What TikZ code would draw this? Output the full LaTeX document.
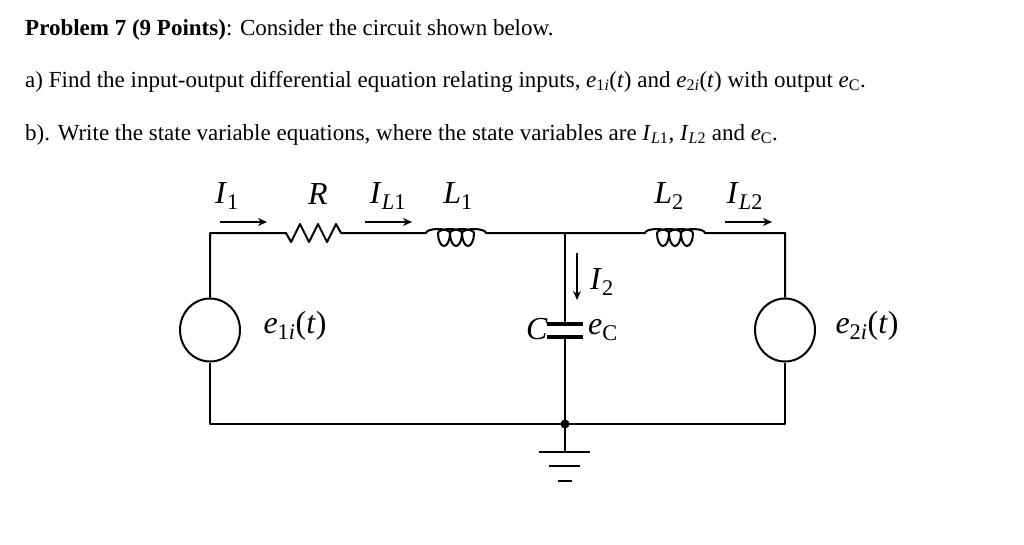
\documentclass[tikz,border=0pt]{standalone}
\usepackage{fontspec}
\setmainfont{Liberation Serif}
\usetikzlibrary{shapes.geometric,arrows.meta}
\newcommand{\vi}[1]{\textit{#1}}
\newcommand{\sbs}[1]{\textsubscript{#1}}
\begin{document}
\begin{tikzpicture}[x=1pt,y=-1pt,
  wire/.style={line width=2pt,line join=round},
  txt/.style={anchor=base west,inner sep=0pt,font=\fontsize{23}{27}\selectfont},
  lab/.style={inner sep=0pt,font=\fontsize{32}{36}\selectfont},
  cur/.style={line width=1.8pt,-{Stealth[length=9pt,width=8pt]}}]
\useasboundingbox (0,0) rectangle (1024,544);
\node[txt] (t1) at (25,35) {\textbf{Problem 7 (9 Points)}: Consider the circuit shown below.};
\node[txt] (t2) at (25,87) {a) Find the input-output differential equation relating inputs, \vi{e}\sbs{1\vi{i}}(\vi{t}) and \vi{e}\sbs{2\vi{i}}(\vi{t}) with output \vi{e}\sbs{C}.};
\node[txt] (t3) at (25,140) {b). Write the state variable equations, where the state variables are \vi{I}\sbs{\vi{L}1}, \vi{I}\sbs{\vi{L}2} and \vi{e}\sbs{C}.};
% coordinates
\coordinate (tl) at (210,233); \coordinate (tr) at (785,233);
\coordinate (bl) at (210,424); \coordinate (br) at (785,424);
\coordinate (tm) at (565,233); \coordinate (bm) at (565,424);
\coordinate (r1) at (282,233); \coordinate (r2) at (347,233);
\coordinate (la1) at (420,233); \coordinate (la2) at (492,233);
\coordinate (lb1) at (639,233); \coordinate (lb2) at (711,233);
\coordinate (c1) at (565,324); \coordinate (c2) at (565,337);
\coordinate (g) at (565,452);
\node[draw,line width=2pt,ellipse,minimum width=60pt,minimum height=63pt,inner sep=0pt] (s1) at (210,330) {};
\node[draw,line width=2pt,ellipse,minimum width=60pt,minimum height=63pt,inner sep=0pt] (s2) at (785,330) {};
\draw[wire] (s1.north) -- (tl) -- (r1)
  -- ++(4,0) -- ++(5,9) -- ++(9,-18) -- ++(9,18) -- ++(9,-18) -- ++(9,18) -- ++(9,-18) -- ++(5,9) -- (r2) -- (la1);
\draw[wire] (la1) -- ++(6,0)
  \foreach \i in {1,2,3}{ arc[start angle=180,end angle=0,x radius=12pt,y radius=4pt] arc[start angle=0,end angle=-180,x radius=6pt,y radius=13pt] }
  arc[start angle=180,end angle=0,x radius=12pt,y radius=4pt] -- (la2) -- (tm) -- (lb1) -- ++(6,0)
  \foreach \i in {1,2,3}{ arc[start angle=180,end angle=0,x radius=12pt,y radius=4pt] arc[start angle=0,end angle=-180,x radius=6pt,y radius=13pt] }
  arc[start angle=180,end angle=0,x radius=12pt,y radius=4pt] -- (lb2) -- (tr) -- (s2.north);
\draw[wire] (s1.south) -- (bl) -- (br) -- (s2.south);
\draw[wire] (tm) -- (c1); \draw[wire] (c2) -- (bm) -- (g);
\draw[line width=3.5pt] (547,324) -- (583,324) (547,337) -- (583,337);
\fill (bm) circle (4.5pt);
\draw[line width=2.5pt] (539,452) -- (590,452) (549,466) -- (580,466) (558,481) -- (572,481);
% currents
\coordinate (a1s) at (220,222); \coordinate (a1e) at (267,222);
\coordinate (a2s) at (365,222); \coordinate (a2e) at (412,222);
\coordinate (a3s) at (725,222); \coordinate (a3e) at (772,222);
\coordinate (a4s) at (577,253); \coordinate (a4e) at (577,300);
\draw[cur] (a1s) -- (a1e); \draw[cur] (a2s) -- (a2e);
\draw[cur] (a3s) -- (a3e); \draw[cur] (a4s) -- (a4e);
\node[lab] (lI1) at (227,196) {\vi{I}\sbs{1}};
\node[lab] (lR) at (318,194) {\vi{R}};
\node[lab] (lIL1) at (388,196) {\vi{I}\sbs{\vi{L}1}};
\node[lab] (lL1) at (458,196) {\vi{L}\sbs{1}};
\node[lab] (lL2) at (669,196) {\vi{L}\sbs{2}};
\node[lab] (lIL2) at (745,196) {\vi{I}\sbs{\vi{L}2}};
\node[lab] (lI2) at (602,282) {\vi{I}\sbs{2}};
\node[lab] (le1) at (295,326) {\vi{e}\sbs{1\vi{i}}(\vi{t})};
\node[lab] (le2) at (867,326) {\vi{e}\sbs{2\vi{i}}(\vi{t})};
\node[lab] (lC) at (537,329) {\vi{C}};
\node[lab] (leC) at (603,330) {\vi{e}\sbs{C}};
\end{tikzpicture}
\end{document}
